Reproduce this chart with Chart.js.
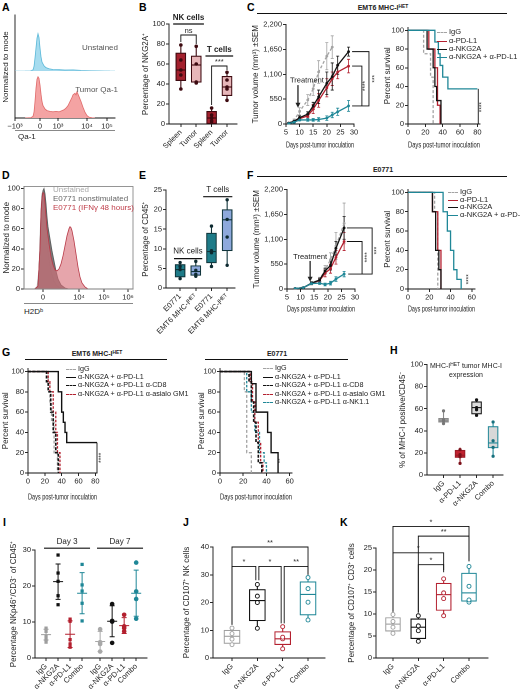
<!DOCTYPE html>
<html>
<head>
<meta charset="utf-8">
<script src="https://cdn.jsdelivr.net/npm/chart.js@4.4.1/dist/chart.umd.min.js"></script>
<style>
  body { margin: 0; background: #fff; width: 520px; height: 694px; position: relative; overflow: hidden;
         font-family: 'Liberation Sans', Arial, sans-serif; }
  canvas { position: absolute; }
  .t { position: absolute; white-space: nowrap; line-height: 1; color: #222; font-size: 7.5px; }
  .t sup { font-size: 70%; vertical-align: 2px; line-height: 0; }
  .hl { position: absolute; height: 0; }
</style>
</head>
<body>
<script>
// ---- A: Qa-1 histograms (x in display units of the biexponential axis)
const aTickPos = [0, 25, 43, 72, 92];
const aTickLab = ['−10³', '0', '10³', '10⁴', '10⁵'];
const aUnX = [10,15,18,19,20,21,22,23,24,25,26,27,29,31,34,38,44,50,58,66,74,84,95];
const aUnY = [0,0,3,12,35,62,88,100,90,62,38,24,14,9,6,4,3.5,2.5,3,1.5,1,0.5,0];
const aTuX = [10,16,18,19,20,21,22,23,24,25,26,27,28,30,32,35,38,41,44,47,49,51,53,55,57,58,59,60,61,62,63,64,66,68,70,72,74,77,80];
const aTuY = [0,1,4,14,40,72,94,100,96,80,58,40,30,22,18,16,15,16,15,18,20,24,30,40,50,56,58,60,56,64,58,52,40,26,14,6,2,0.5,0];

// ---- B: % NKG2A+
const bLabels = ['Spleen', 'Tumor', 'Spleen', 'Tumor'];
const bLow  = [35, 41, 0, 23.7];
const bQ1   = [43.3, 41.7, 0.3, 28.3];
const bMed  = [54, 59, 6, 37];
const bQ3   = [71, 68, 12.7, 47.7];
const bHigh = [79, 77.7, 16, 51.7];
const bDots = [[35,49,54,64,79], [41,42,60,77.7], [0.5,3,6,9,16], [23.7,35,37,44,51.7]];

// ---- C: EMT6 MHC-I HET tumour growth and survival
const cDays    = [6, 8, 10, 13, 15, 17, 20, 22, 24, 28];
const cDaysIgG = [6, 8, 10, 13, 15, 17, 20, 22];
const cIgG     = [20, 80, 280, 530, 780, 1150, 1500, 1700];
const cIgGSem  = [10, 30, 80, 120, 150, 250, 300, 250];
const cPDL1    = [20, 50, 120, 180, 330, 520, 800, 1000, 1150, 1280];
const cPDL1Sem = [10, 20, 30, 40, 100, 150, 200, 150, 150, 150];
const cNKG2A   = [20, 60, 140, 220, 400, 600, 900, 1050, 1300, 1600];
const cNKG2ASem= [10, 20, 40, 50, 80, 150, 250, 300, 200, 100];
const cCombo   = [10, 40, 90, 90, 90, 100, 130, 200, 270, 400];
const cComboSem= [10, 15, 20, 30, 30, 40, 50, 60, 80, 120];
const cSurvIgG   = [[0,100],[18,75],[26,50],[29,0]];
const cSurvPDL1  = [[0,100],[24,80],[31,60],[34,20],[37,0]];
const cSurvNKG2A = [[0,100],[22,80],[29,60],[31,40],[33,25],[38,0]];
const cSurvCombo = [[0,100],[31,87.5],[35,75],[37,62.5],[40,50],[46,37.5],[80,37.5]];

// ---- D: H2Db histograms
const dTickPos = [19, 55, 80, 104];
const dTickLab = ['0', '10⁴', '10⁵', '10⁶'];
const dUnX = [10,13,15,16,17,18,19,20,21,22,23,25,27,30,33,37,42];
const dUnY = [0,2,20,50,80,95,97,90,75,60,45,30,18,8,3,1,0];
const dNsX = [11,14,16,17,18,19,20,21,22,23,24,26,28,30,32,34,37,41,45];
const dNsY = [0,3,40,75,92,98,100,95,85,72,62,50,38,28,18,10,4,1,0];
const dIfX = [11,14,16,17,18,19,20,21,22,23,25,27,29,31,33,35,37,39,41,43,45,46,47,48,50,52,54,56,58,61,64];
const dIfY = [0,3,40,75,90,96,95,85,72,60,45,32,24,19,18,20,25,33,43,53,60,62,61,58,48,35,22,12,6,2,0];

// ---- E: % of CD45+
const eLabels = ['E0771', 'EMT6 MHC-Iᴴᴱᵀ', 'E0771', 'EMT6 MHC-Iᴴᴱᵀ'];
const eLow  = [2.3, 2.8, 5.3, 5.7];
const eQ1   = [2.8, 3.2, 6.4, 9.5];
const eMed  = [4.7, 4.2, 9.3, 17.4];
const eQ3   = [6, 5.7, 14, 20];
const eHigh = [6.5, 6.8, 15.8, 22.5];
const eDots = [[2.4,4.7,5.5,6.5], [3,3.5,4.5,6.8], [5.5,9,9.5,15.8], [5.8,13,17.5,22.5]];

// ---- F: E0771 tumour growth and survival
const fDays    = [8, 11, 14, 17, 19, 21, 23, 26];
const fIgG     = [10, 30, 120, 210, 420, 650, 950, 1450];
const fIgGSem  = [5, 10, 30, 50, 100, 150, 300, 450];
const fPDL1    = [10, 30, 120, 190, 350, 450, 700, 1050];
const fPDL1Sem = [5, 10, 20, 40, 80, 100, 150, 200];
const fNKG2A   = [10, 30, 130, 200, 400, 520, 900, 1350];
const fNKG2ASem= [5, 10, 30, 40, 60, 100, 150, 250];
const fCombo   = [10, 30, 120, 130, 100, 130, 220, 330];
const fComboSem= [5, 10, 20, 30, 30, 40, 50, 60];
const fSurvIgG   = [[0,100],[25,80],[28,0]];
const fSurvPDL1  = [[0,100],[23,80],[28,40],[31,0]];
const fSurvNKG2A = [[0,100],[23,80],[26,40],[29,20],[31,0]];
const fSurvCombo = [[0,100],[33,80],[37,60],[40,40],[43,20],[46,10],[50,0]];

// ---- G: depletion survival
const gEmtIgG    = [[0,100],[24,90],[26,70],[28,50],[31,20],[35,0]];
const gEmtCombo  = [[0,100],[36,80],[40,60],[42,50],[44,40],[46,30],[82,30]];
const gEmtCD8    = [[0,100],[22,90],[24,80],[27,60],[30,40],[33,20],[36,0]];
const gEmtAsialo = [[0,100],[24,90],[26,80],[30,60],[33,40],[35,20],[38,0]];
const gE07IgG    = [[0,100],[21,80],[23,20],[27,0]];
const gE07Combo  = [[0,100],[27,88],[31,60],[41,40],[44,20],[50,0]];
const gE07CD8    = [[0,100],[25,90],[27,70],[29,50],[31,30],[33,10],[36,0]];
const gE07Asialo = [[0,100],[26,90],[28,70],[30,50],[33,30],[35,10],[37,0]];
const gE07NK11   = [[0,100],[23,80],[27,60],[30,40],[34,20],[38,10],[40,0]];

// ---- H: MHC-I expression
const hLabels = ['IgG', 'α-PD-L1', 'α-NKG2A', 'Combo'];
const hLow  = [46, 10.5, 53.7, 17];
const hQ1   = [47.8, 15.8, 55.2, 24.5];
const hMed  = [49, 17.9, 61, 29];
const hQ3   = [51.3, 22.4, 66.3, 43.9];
const hHigh = [58, 24.8, 69, 49];
const hDots = [[46.5,49,50,58], [10.5,16.5,18.5,23], [54,59,61,68], [17,25,31,48]];

// ---- I: NKp46+/CD3- of CD45+
const iPos    = [1, 2, 3, 4, 5.5, 6.5, 7.5, 8.5];
const iLabels = ['IgG', 'α-NKG2A', 'α-PD-L1', 'Combo', 'IgG', 'α-NKG2A', 'α-PD-L1', 'Combo'];
const iDots = [[4.4,5.1,6,7.4,8.3], [14.8,17.3,21.3,23.6,28.6], [3,3.9,5.1,10.2,10.8], [10.3,15.2,18.6,20.3,26],
               [1.8,3.9,4.4,8], [4.2,10.1,10.2,10.3,15], [7.4,8.3,8.8,12], [10.9,16.4,18.5,26.5]];
const iMean = [6.5, 21.2, 6.6, 18, 4.6, 10.2, 9, 18];
const iSd   = [1.5, 4.9, 3.7, 5.7, 2.8, 4.3, 2.2, 6.4];

// ---- J: CD107+ NK cells
const jLabels = ['IgG', 'α-NKG2A', 'α-PD-L1', 'Combo'];
const jLow  = [4.8, 10.7, 3.3, 13.7];
const jQ1   = [5.2, 13.4, 4.8, 15.5];
const jMed  = [7.8, 20.7, 6.9, 22.9];
const jQ3   = [10, 24.7, 9.5, 27.5];
const jHigh = [11, 26.5, 11.3, 29];
const jDots = [[4.8,6.8,8.8,10.8], [10.7,20,22.3,26.5], [3.3,6.9,7.5,11.3], [13.7,20.1,25,29]];

// ---- K: CD107+ CD3+ cells
const kLabels = ['IgG', 'α-NKG2A', 'α-PD-L1', 'Combo'];
const kLow  = [5.5, 3.8, 9.6, 12.7];
const kQ1   = [6.1, 4.4, 10.8, 12.9];
const kMed  = [7.7, 7, 14.4, 14.8];
const kQ3   = [9.2, 8.9, 17, 19.3];
const kHigh = [10, 9.6, 18, 20.8];
const kDots = [[5.6,7,8.3,9.9], [3.8,6.2,7.3,9.6], [9.6,13.5,14.8,18], [12.7,13.2,16.3,20.8]];

// ---------------------------------------------------------------
const F = "'Liberation Sans', Arial, sans-serif";
const TEAL = '#1f8797', RED = '#b3202f', GRAY = '#a3a3a3', BLACK = '#111', INK = '#222';
const TICK = 7.5, TITLE = 8;
Chart.defaults.font.family = F;
Chart.defaults.font.size = TICK;
Chart.defaults.color = INK;
Chart.defaults.animation = false;
Chart.defaults.plugins.legend.display = false;
Chart.defaults.plugins.tooltip.enabled = false;

// extra drawing: whiskers, medians, error bars, mean/sd, brackets and notes
Chart.register({
  id: 'deco',
  beforeDatasetsDraw(ch) {
    const d = ch.canvas.$deco, ctx = ch.ctx, X = ch.scales.x, Y = ch.scales.y;
    ctx.save();
    if (d.box) {
      const b = d.box;
      b.pos.forEach((p, i) => {
        const px = X.getPixelForValue(p);
        ctx.strokeStyle = b.color[i]; ctx.lineWidth = 1.1;
        ctx.beginPath();
        ctx.moveTo(px, Y.getPixelForValue(b.low[i]));
        ctx.lineTo(px, Y.getPixelForValue(b.high[i]));
        ctx.stroke();
      });
    }
    (d.err || []).forEach(s => {
      ctx.strokeStyle = s.color; ctx.lineWidth = 0.8;
      s.x.forEach((v, i) => {
        const px = X.getPixelForValue(v);
        const top = Y.getPixelForValue(s.y[i] + s.e[i]);
        const bot = Y.getPixelForValue(Math.max(0, s.y[i] - s.e[i]));
        ctx.beginPath();
        ctx.moveTo(px, bot); ctx.lineTo(px, top);
        ctx.moveTo(px - 1.5, top); ctx.lineTo(px + 1.5, top);
        ctx.moveTo(px - 1.5, bot); ctx.lineTo(px + 1.5, bot);
        ctx.stroke();
      });
    });
    ctx.restore();
  },
  afterDatasetDraw(ch, args) {
    const d = ch.canvas.$deco;
    if (!d.box || args.meta.type !== 'bar') return;
    const ctx = ch.ctx, X = ch.scales.x, Y = ch.scales.y, b = d.box;
    ctx.save();
    b.pos.forEach((p, i) => {
      const px = X.getPixelForValue(p), py = Y.getPixelForValue(b.med[i]);
      ctx.strokeStyle = b.color[i]; ctx.lineWidth = 1.1;
      ctx.beginPath(); ctx.moveTo(px - b.bw / 2, py); ctx.lineTo(px + b.bw / 2, py); ctx.stroke();
    });
    ctx.restore();
  },
  afterDatasetsDraw(ch) {
    const d = ch.canvas.$deco;
    if (!d.ms) return;
    const ctx = ch.ctx, X = ch.scales.x, Y = ch.scales.y, m = d.ms;
    ctx.save();
    m.pos.forEach((p, i) => {
      const px = X.getPixelForValue(p);
      const ym = Y.getPixelForValue(m.mean[i]);
      const y1 = Y.getPixelForValue(m.mean[i] - m.sd[i]), y2 = Y.getPixelForValue(m.mean[i] + m.sd[i]);
      ctx.strokeStyle = m.color[i]; ctx.lineWidth = 1;
      ctx.beginPath();
      ctx.moveTo(px - 5, ym); ctx.lineTo(px + 5, ym);
      ctx.moveTo(px, y1); ctx.lineTo(px, y2);
      ctx.moveTo(px - 2.5, y1); ctx.lineTo(px + 2.5, y1);
      ctx.moveTo(px - 2.5, y2); ctx.lineTo(px + 2.5, y2);
      ctx.stroke();
    });
    ctx.restore();
  },
  afterDraw(ch) {
    const d = ch.canvas.$deco, ctx = ch.ctx, X = ch.scales.x, Y = ch.scales.y, A = ch.chartArea;
    const px = v => X.getPixelForValue(v), py = v => Y.getPixelForValue(v);
    (d.marks || []).forEach(m => {
      ctx.save();
      ctx.strokeStyle = m.color || BLACK; ctx.fillStyle = m.color || INK;
      ctx.lineWidth = m.w || 0.9;
      ctx.font = (m.bold ? 'bold ' : '') + (m.size || TICK) + 'px ' + F;
      if (m.type === 'path') {
        ctx.beginPath();
        m.pts.forEach((p, i) => i ? ctx.lineTo(px(p[0]), py(p[1])) : ctx.moveTo(px(p[0]), py(p[1])));
        ctx.stroke();
      } else if (m.type === 'br') {
        const yy = py(m.y);
        ctx.beginPath();
        ctx.moveTo(px(m.x1), py(m.y1)); ctx.lineTo(px(m.x1), yy);
        ctx.lineTo(px(m.x2), yy); ctx.lineTo(px(m.x2), py(m.y2));
        ctx.stroke();
        if (m.text) {
          ctx.textAlign = 'center'; ctx.textBaseline = 'bottom';
          ctx.fillText(m.text, (px(m.x1) + px(m.x2)) / 2, yy - 0.5);
        }
      } else if (m.type === 'txt') {
        ctx.textAlign = m.align || 'center'; ctx.textBaseline = 'middle';
        ctx.translate(px(m.x), py(m.y));
        if (m.rot) ctx.rotate(m.rot);
        ctx.fillText(m.text, 0, 0);
      } else if (m.type === 'arrow') {
        const x = px(m.x), a = py(m.y1), b = py(m.y2);
        ctx.lineWidth = 1.2;
        ctx.beginPath(); ctx.moveTo(x, a); ctx.lineTo(x, b - 4); ctx.stroke();
        ctx.beginPath(); ctx.moveTo(x - 2.5, b - 5); ctx.lineTo(x + 2.5, b - 5); ctx.lineTo(x, b); ctx.closePath(); ctx.fill();
      } else if (m.type === 'frame') {
        ctx.strokeRect(A.left, A.top, A.right - A.left, A.bottom - A.top);
      }
      ctx.restore();
    });
  }
});

function ax(o) {
  const s = {
    type: 'linear', min: o.min, max: o.max, display: o.display !== false, offset: false,
    grid: { drawOnChartArea: false, drawTicks: o.ticks !== false, tickLength: 3, color: BLACK, lineWidth: 0.9, offset: false },
    border: { display: true, color: BLACK, width: 0.9 },
    ticks: { display: o.ticks !== false, padding: 1, color: INK, font: { size: TICK }, autoSkip: false,
             includeBounds: false, maxRotation: o.rot || 0, minRotation: o.rot || 0 }
  };
  if (o.step) s.ticks.stepSize = o.step;
  if (o.at) s.afterBuildTicks = sc => { sc.ticks = o.at.map(v => ({ value: v })); };
  if (o.lab) s.ticks.callback = (v, i) => o.lab[i];
  if (o.title) s.title = { display: true, text: o.title, padding: { top: 0, bottom: 1 }, font: { size: TITLE }, color: INK };
  return s;
}

function place(area, pad, cfg, deco) {
  const [x0, y0, x1, y1] = area;
  const l = pad.l || 0, t = pad.t || 0, r = pad.r || 0, b = pad.b || 0;
  const c = document.createElement('canvas');
  c.width = x1 - x0 + l + r; c.height = y1 - y0 + t + b;
  c.style.left = (x0 - l) + 'px'; c.style.top = (y0 - t) + 'px';
  c.$deco = deco || {};
  document.body.appendChild(c);
  const o = cfg.options;
  o.responsive = false; o.devicePixelRatio = 2;
  const sx = o.scales.x, sy = o.scales.y;
  o.layout = { padding: { top: t, right: r, left: 0, bottom: sx.display === false ? b : 0 } };
  sy.afterFit = s => { s.width = l; };
  sx.afterFit = s => { s.height = b; };
  return new Chart(c, cfg);
}

const pts = (xs, ys) => xs.map((x, i) => ({ x, y: ys[i] }));
function hist(xs, ys, line, fill) {
  return { data: pts(xs, ys), borderColor: line, backgroundColor: fill, borderWidth: 0.8, pointRadius: 0, fill: 'origin', tension: 0 };
}
function growth(xs, ys, color, dash) {
  return { data: pts(xs, ys), borderColor: color, backgroundColor: color, borderWidth: 1.3, borderDash: dash || [],
           pointRadius: 1.4, pointBorderWidth: 0, tension: 0, fill: false };
}
function surv(pairs, color, dash, w) {
  return { data: pairs.map(p => ({ x: p[0], y: p[1] })), borderColor: color, borderWidth: w || 1.3,
           borderDash: dash || [], pointRadius: 0, stepped: true, fill: false };
}

function boxChart(area, pad, d) {
  const pos = d.low.map((_, i) => i + 1);
  const dots = [], dotFill = [], dotLine = [];
  d.dots.forEach((arr, i) => arr.forEach(v => { dots.push({ x: pos[i], y: v }); dotFill.push(d.dotFill[i]); dotLine.push(d.dotLine[i]); }));
  return place(area, pad, {
    type: 'bar',
    data: { datasets: [
      { type: 'scatter', data: dots, pointRadius: d.r, pointBackgroundColor: dotFill, pointBorderColor: dotLine,
        pointBorderWidth: d.open ? 0.9 : 0 },
      { type: 'bar', data: pos.map((p, i) => ({ x: p, y: [d.q1[i], d.q3[i]] })), backgroundColor: d.fill,
        borderColor: d.stroke, borderWidth: 1.1, borderSkipped: false, barThickness: d.bw }
    ] },
    options: { scales: {
      x: ax({ min: d.xmin, max: d.xmax, at: pos, lab: d.labels, rot: 45 }),
      y: ax({ min: 0, max: d.ymax, step: d.step, title: d.title })
    } }
  }, { box: { pos, low: d.low, high: d.high, med: d.med, color: d.stroke, bw: d.bw }, marks: d.marks });
}

// HTML text helpers
function txt(x, y, html, o = {}) {
  const e = document.createElement('div');
  e.className = 't'; e.innerHTML = html;
  e.style.left = x + 'px'; e.style.top = y + 'px';
  const tx = o.a === 'l' ? '0' : o.a === 'r' ? '-100%' : '-50%';
  e.style.transform = `translate(${tx},-50%)` + (o.rot ? ` rotate(${o.rot}deg)` : '');
  if (o.size) e.style.fontSize = o.size + 'px';
  if (o.bold) e.style.fontWeight = 'bold';
  if (o.color) e.style.color = o.color;
  document.body.appendChild(e);
}
function hline(x0, x1, y, o = {}) {
  const e = document.createElement('div');
  e.className = 'hl';
  e.style.left = x0 + 'px'; e.style.top = y + 'px'; e.style.width = (x1 - x0) + 'px';
  e.style.borderTop = `${o.w || 1}px ${o.dash ? 'dashed' : 'solid'} ${o.color || BLACK}`;
  document.body.appendChild(e);
}
function legend(x, ys, items, size) {
  items.forEach((it, i) => {
    hline(x, x + 10, ys[i], { color: it[1], dash: it[2], w: 1.3 });
    txt(x + 12, ys[i], it[0], { a: 'l', size: size || 7.5 });
  });
}

// ---- panel letters and headers
[['A', 2, 7], ['B', 139, 7], ['C', 247, 7], ['D', 2, 175], ['E', 139, 175], ['F', 247, 175],
 ['G', 2, 352], ['H', 390, 350], ['I', 3, 522], ['J', 183, 522], ['K', 340, 522]]
  .forEach(p => txt(p[1], p[2], p[0], { a: 'l', size: 10.5, bold: true, color: '#000' }));
txt(383, 6.5, 'EMT6 MHC-I<sup>HET</sup>', { bold: true, size: 7 });
hline(257, 507, 12.5, { w: 1.2 });
txt(383, 169, 'E0771', { bold: true, size: 7 });
hline(257, 507, 176, { w: 1.2 });
txt(97, 353, 'EMT6 MHC-I<sup>HET</sup>', { bold: true, size: 7 });
hline(25, 167, 359, { w: 1.2 });
txt(277, 353, 'E0771', { bold: true, size: 7 });
hline(205, 348, 359, { w: 1.2 });

// ---- A
place([15, 15, 115, 71], { l: 10, t: 2, r: 6, b: 0 }, {
  type: 'line',
  data: { datasets: [hist(aUnX, aUnY, '#5ab8d8', '#a6dcef')] },
  options: { scales: { x: ax({ min: 0, max: 100, display: false }), y: ax({ min: 0, max: 150, ticks: false }) } }
}, { marks: [{ type: 'path', pts: [[0, 0], [100, 0]], color: '#9fd6ea', w: 0.8 }] });
place([15, 71, 115, 118], { l: 10, t: 0, r: 8, b: 11 }, {
  type: 'line',
  data: { datasets: [hist(aTuX, aTuY, '#e06a6a', '#f4a3a3')] },
  options: { scales: { x: ax({ min: 0, max: 100, at: aTickPos, lab: aTickLab }), y: ax({ min: 0, max: 114, ticks: false }) } }
});
txt(6, 67, 'Normalized to mode', { rot: -90, size: 8 });
txt(118, 48, 'Unstained', { a: 'r', size: 8, color: '#555' });
txt(118, 90, 'Tumor Qa-1', { a: 'r', size: 8, color: '#555' });
hline(15, 115, 130, { color: '#888', w: 1.5 });
txt(18, 137, 'Qa-1', { a: 'l', size: 8 });

// ---- B
boxChart([169, 24, 237, 124], { l: 28, t: 16, r: 6, b: 24 }, {
  labels: bLabels, low: bLow, q1: bQ1, med: bMed, q3: bQ3, high: bHigh, dots: bDots,
  fill: ['#a3202d', '#e7b6b9', '#a3202d', '#e7b6b9'], stroke: ['#3d0a10', '#3d0a10', '#3d0a10', '#3d0a10'],
  dotFill: ['#3d0a10', '#3d0a10', '#3d0a10', '#3d0a10'], dotLine: ['#3d0a10', '#3d0a10', '#3d0a10', '#3d0a10'],
  r: 1.8, bw: 10, xmin: 0.23, xmax: 4.65, ymax: 100, step: 20, title: 'Percentage of NKG2A⁺',
  marks: [
    { type: 'path', pts: [[0.5, 100], [2.5, 100]], w: 1.2 },
    { type: 'txt', x: 1.5, y: 106, text: 'NK cells', bold: true, size: 8 },
    { type: 'br', x1: 1, x2: 2, y: 89, y1: 82, y2: 80, text: 'ns' },
    { type: 'path', pts: [[2.6, 68], [4.4, 68]], w: 1.2 },
    { type: 'txt', x: 3.5, y: 74, text: 'T cells', bold: true, size: 8 },
    { type: 'br', x1: 3, x2: 4, y: 58, y1: 19, y2: 54, text: '***' }
  ]
});

// ---- C
place([286, 23, 354, 124], { l: 35, t: 4, r: 26, b: 27 }, {
  type: 'line',
  data: { datasets: [
    growth(cDays, cCombo, TEAL), growth(cDays, cNKG2A, BLACK), growth(cDays, cPDL1, RED),
    growth(cDaysIgG, cIgG, GRAY, [3, 2])
  ] },
  options: { scales: {
    x: ax({ min: 5, max: 30, step: 5, title: 'Days post-tumor inoculation' }),
    y: ax({ min: 0, max: 2200, step: 500, title: 'Tumor volume (mm³) ±SEM' })
  } }
}, {
  err: [
    { x: cDaysIgG, y: cIgG, e: cIgGSem, color: GRAY }, { x: cDays, y: cPDL1, e: cPDL1Sem, color: RED },
    { x: cDays, y: cNKG2A, e: cNKG2ASem, color: BLACK }, { x: cDays, y: cCombo, e: cComboSem, color: TEAL }
  ],
  marks: [
    { type: 'path', pts: [[29.3, 1600], [35.5, 1600], [35.5, 400], [29.3, 400]] },
    { type: 'path', pts: [[29.3, 1280], [32.9, 1280], [32.9, 400]] },
    { type: 'txt', x: 34.2, y: 840, text: '****', rot: -Math.PI / 2, size: 6.5 },
    { type: 'txt', x: 37.7, y: 1000, text: '***', rot: -Math.PI / 2, size: 6.5 },
    { type: 'arrow', x: 9.4, y1: 860, y2: 360 },
    { type: 'txt', x: 12.7, y: 960, text: 'Treatment', size: 7.5 }
  ]
});
place([408, 26, 480, 124], { l: 25, t: 4, r: 14, b: 27 }, {
  type: 'line',
  data: { datasets: [surv(cSurvCombo, TEAL), surv(cSurvNKG2A, BLACK), surv(cSurvPDL1, RED), surv(cSurvIgG, GRAY, [3, 2])] },
  options: { scales: {
    x: ax({ min: 0, max: 83, step: 20, title: 'Days post-tumor inoculation' }),
    y: ax({ min: 0, max: 103, step: 20, title: 'Percent survival' })
  } }
}, { marks: [
  { type: 'path', pts: [[81, 37.5], [81, 0]] },
  { type: 'txt', x: 85, y: 18, text: '****', rot: -Math.PI / 2, size: 6.5 }
] });
legend(437, [32, 40.5, 48.5, 56.5], [
  ['IgG', GRAY, true], ['α-PD-L1', RED], ['α-NKG2A', BLACK], ['α-NKG2A + α-PD-L1', TEAL]
]);

// ---- D
place([24, 185, 133, 289], { l: 22, t: 4, r: 6, b: 13 }, {
  type: 'line',
  data: { datasets: [
    hist(dIfX, dIfY, '#b83a48', 'rgba(214,110,120,0.62)'),
    hist(dNsX, dNsY, '#5a5a5a', 'rgba(105,105,105,0.9)'),
    hist(dUnX, dUnY, '#b8b8b8', '#d2d2d2')
  ] },
  options: { scales: {
    x: ax({ min: 0, max: 109, at: dTickPos, lab: dTickLab }),
    y: ax({ min: 0, max: 102, step: 20, title: 'Normalized to mode' })
  } }
}, { marks: [{ type: 'frame', color: '#8a8a8a', w: 0.9 }] });
txt(53, 190, 'Unstained', { a: 'l', size: 8, color: '#aaa' });
txt(53, 199, 'E0771 nonstimulated', { a: 'l', size: 8, color: '#666' });
txt(53, 207.7, 'E0771 (IFNγ 48 hours)', { a: 'l', size: 8, color: '#c0404c' });
hline(24, 133, 303, { color: '#888', w: 1.5 });
txt(24, 312, 'H2D<sup>b</sup>', { a: 'l', size: 8 });

// ---- E
boxChart([166, 190, 235, 288], { l: 25, t: 8, r: 6, b: 58 }, {
  labels: eLabels, low: eLow, q1: eQ1, med: eMed, q3: eQ3, high: eHigh, dots: eDots,
  fill: ['#1e7b88', '#8ea9dc', '#1e7b88', '#8ea9dc'], stroke: ['#10343a', '#10343a', '#10343a', '#10343a'],
  dotFill: ['#0d2a30', '#0d2a30', '#0d2a30', '#0d2a30'], dotLine: ['#0d2a30', '#0d2a30', '#0d2a30', '#0d2a30'],
  r: 1.7, bw: 10, xmin: 0.1, xmax: 4.5, ymax: 25, step: 5, title: 'Percentage of CD45⁺',
  marks: [
    { type: 'path', pts: [[0.61, 7.5], [2.41, 7.5]], w: 1.2 },
    { type: 'txt', x: 1.5, y: 9.3, text: 'NK cells', size: 8 },
    { type: 'path', pts: [[2.47, 23.3], [4.33, 23.3]], w: 1.2 },
    { type: 'txt', x: 3.4, y: 25.1, text: 'T cells', size: 8 }
  ]
});

// ---- F
place([287, 188, 355, 289], { l: 35, t: 4, r: 26, b: 26 }, {
  type: 'line',
  data: { datasets: [
    growth(fDays, fCombo, TEAL), growth(fDays, fNKG2A, BLACK), growth(fDays, fPDL1, RED),
    growth(fDays, fIgG, GRAY, [3, 2])
  ] },
  options: { scales: {
    x: ax({ min: 5, max: 30, step: 5, title: 'Days post-tumor inoculation' }),
    y: ax({ min: 0, max: 2200, step: 500, title: 'Tumor volume (mm³) ±SEM' })
  } }
}, {
  err: [
    { x: fDays, y: fIgG, e: fIgGSem, color: GRAY }, { x: fDays, y: fPDL1, e: fPDL1Sem, color: RED },
    { x: fDays, y: fNKG2A, e: fNKG2ASem, color: BLACK }, { x: fDays, y: fCombo, e: fComboSem, color: TEAL }
  ],
  marks: [
    { type: 'path', pts: [[27, 1350], [36.3, 1350], [36.3, 330], [27.5, 330]] },
    { type: 'path', pts: [[27, 1050], [32.6, 1050], [32.6, 330]] },
    { type: 'txt', x: 34.4, y: 700, text: '****', rot: -Math.PI / 2, size: 6.5 },
    { type: 'txt', x: 38, y: 850, text: '***', rot: -Math.PI / 2, size: 6.5 },
    { type: 'arrow', x: 13.5, y1: 620, y2: 160 },
    { type: 'txt', x: 13.5, y: 710, text: 'Treatment', size: 7.5 }
  ]
});
place([408, 188, 475, 289], { l: 25, t: 4, r: 10, b: 26 }, {
  type: 'line',
  data: { datasets: [surv(fSurvCombo, TEAL), surv(fSurvNKG2A, BLACK), surv(fSurvPDL1, RED), surv(fSurvIgG, GRAY, [3, 2])] },
  options: { scales: {
    x: ax({ min: 0, max: 63, step: 20, title: 'Days post-tumor inoculation' }),
    y: ax({ min: 0, max: 103, step: 20, title: 'Percent survival' })
  } }
}, { marks: [{ type: 'txt', x: 57, y: 10, text: '****', rot: -Math.PI / 2, size: 6.5 }] });
legend(448, [192, 199.5, 207, 214.5], [
  ['IgG', GRAY, true], ['α-PD-L1', RED], ['α-NKG2A', BLACK], ['α-NKG2A + α-PD-L1', TEAL]
]);

// ---- G
place([28, 367, 97, 473], { l: 27, t: 4, r: 14, b: 30 }, {
  type: 'line',
  data: { datasets: [
    surv(gEmtCombo, BLACK, null, 1.4), surv(gEmtCD8, BLACK, [3, 1.5], 1.6),
    surv(gEmtAsialo, RED, [2.5, 1.5]), surv(gEmtIgG, GRAY, [3, 2])
  ] },
  options: { scales: {
    x: ax({ min: 0, max: 82, step: 20, title: 'Days post-tumor inoculation' }),
    y: ax({ min: 0, max: 103, step: 20, title: 'Percent survival' })
  } }
}, { marks: [
  { type: 'path', pts: [[82, 30], [82, 0]] },
  { type: 'txt', x: 87, y: 15, text: '****', rot: -Math.PI / 2, size: 6.5 }
] });
legend(66, [369, 377, 385, 394], [
  ['IgG', GRAY, true], ['α-NKG2A + α-PD-L1', BLACK], ['α-NKG2A + α-PD-L1 α-CD8', BLACK, true],
  ['α-NKG2A + α-PD-L1 α-asialo GM1', RED, true]
], 7.2);
place([220, 367, 292, 473], { l: 23, t: 4, r: 10, b: 30 }, {
  type: 'line',
  data: { datasets: [
    surv(gE07Combo, BLACK, null, 1.4), surv(gE07CD8, BLACK, [3, 1.5], 1.6), surv(gE07Asialo, RED, [2.5, 1.5]),
    surv(gE07NK11, TEAL, [2.5, 1.5]), surv(gE07IgG, GRAY, [3, 2])
  ] },
  options: { scales: {
    x: ax({ min: 0, max: 62, step: 20, title: 'Days post-tumor inoculation' }),
    y: ax({ min: 0, max: 103, step: 20, title: 'Percent survival' })
  } }
}, { marks: [{ type: 'txt', x: 52, y: 12, text: '**', rot: -Math.PI / 2, size: 6.5 }] });
legend(263, [368, 377, 385, 394, 402], [
  ['IgG', GRAY, true], ['α-NKG2A + α-PD-L1', BLACK], ['α-NKG2A + α-PD-L1 α-CD8', BLACK, true],
  ['α-NKG2A + α-PD-L1 α-asialo GM1', RED, true], ['α-NKG2A + α-PD-L1 α-NK1.1', TEAL, true]
], 7.2);

// ---- H
boxChart([427, 363, 503, 475], { l: 29, t: 4, r: 8, b: 32 }, {
  labels: hLabels, low: hLow, q1: hQ1, med: hMed, q3: hQ3, high: hHigh, dots: hDots,
  fill: ['#a0a0a0', '#c0222f', '#dcdcdc', '#d8d8d8'], stroke: ['#8a8a8a', '#9b1b26', BLACK, TEAL],
  dotFill: ['#777', '#7a1019', BLACK, '#17707d'], dotLine: ['#777', '#7a1019', BLACK, '#17707d'],
  r: 1.6, bw: 10, xmin: 0, xmax: 4.6, ymax: 100, step: 20, title: '% of MHC-I positive/CD45⁻'
});
txt(466, 365, 'MHC-I<sup>HET</sup> tumor MHC-I', { size: 7 });
txt(466, 373.5, 'expression', { size: 7 });

// ---- I
{
  const iColor = ['#9e9e9e', BLACK, RED, TEAL, '#a8a8a8', BLACK, RED, TEAL];
  const dots = [], fill = [], style = [];
  iDots.forEach((arr, i) => arr.forEach(v => { dots.push({ x: iPos[i], y: v }); fill.push(iColor[i]); style.push(i < 4 ? 'rect' : 'circle'); }));
  place([35, 550, 147, 658], { l: 26, t: 12, r: 6, b: 36 }, {
    type: 'scatter',
    data: { datasets: [{ data: dots, pointStyle: style, pointRadius: 2.3, pointBackgroundColor: fill, pointBorderWidth: 0 }] },
    options: { scales: {
      x: ax({ min: 0.08, max: 9.4, at: iPos, lab: iLabels, rot: 45 }),
      y: ax({ min: 0, max: 30, step: 10, title: 'Percentage NKp46⁺/CD3⁻ of CD45⁺' })
    } }
  }, {
    ms: { pos: iPos, mean: iMean, sd: iSd, color: iColor },
    marks: [
      { type: 'path', pts: [[0.83, 30.5], [4.66, 30.5]], w: 1.2 },
      { type: 'txt', x: 2.75, y: 32.3, text: 'Day 3', size: 8 },
      { type: 'path', pts: [[5.24, 30.5], [9.07, 30.5]], w: 1.2 },
      { type: 'txt', x: 7.15, y: 32.3, text: 'Day 7', size: 8 }
    ]
  });
}

// ---- J
boxChart([213, 547, 325, 658], { l: 31, t: 12, r: 6, b: 36 }, {
  labels: jLabels, low: jLow, q1: jQ1, med: jMed, q3: jQ3, high: jHigh, dots: jDots,
  fill: ['#fff', '#fff', '#fff', '#fff'], stroke: ['#a0a0a0', BLACK, RED, TEAL],
  dotFill: ['#fff', '#fff', '#fff', '#fff'], dotLine: ['#a0a0a0', BLACK, RED, TEAL], open: true,
  r: 2, bw: 16, xmin: 0.25, xmax: 4.67, ymax: 40, step: 10, title: 'Percentage of CD107⁺ NK cells',
  marks: [
    { type: 'br', x1: 1, x2: 4, y: 40, y1: 12, y2: 30, text: '**' },
    { type: 'br', x1: 1, x2: 1.94, y: 33, y1: 12, y2: 28, text: '*' },
    { type: 'br', x1: 2.06, x2: 2.94, y: 33, y1: 28, y2: 12.5, text: '*' },
    { type: 'br', x1: 3.06, x2: 4, y: 33, y1: 12.5, y2: 30, text: '**' }
  ]
});

// ---- K
boxChart([376, 548, 488, 658], { l: 29, t: 32, r: 6, b: 36 }, {
  labels: kLabels, low: kLow, q1: kQ1, med: kMed, q3: kQ3, high: kHigh, dots: kDots,
  fill: ['#fff', '#fff', '#fff', '#fff'], stroke: ['#a0a0a0', BLACK, RED, TEAL],
  dotFill: ['#fff', '#fff', '#fff', '#fff'], dotLine: ['#a0a0a0', BLACK, RED, TEAL], open: true,
  r: 2, bw: 15, xmin: 0.33, xmax: 4.75, ymax: 25, step: 5, title: 'Percentage of CD107⁺ CD3⁺ cells',
  marks: [
    { type: 'br', x1: 1, x2: 4, y: 29.9, y1: 10.5, y2: 22, text: '*' },
    { type: 'br', x1: 2, x2: 4, y: 27.7, y1: 10.3, y2: 22, text: '**' },
    { type: 'br', x1: 1, x2: 3, y: 23.9, y1: 10.5, y2: 20, text: '*' },
    { type: 'br', x1: 2, x2: 3, y: 21.2, y1: 10.3, y2: 19.5, text: '*' }
  ]
});
</script>
</body>
</html>
